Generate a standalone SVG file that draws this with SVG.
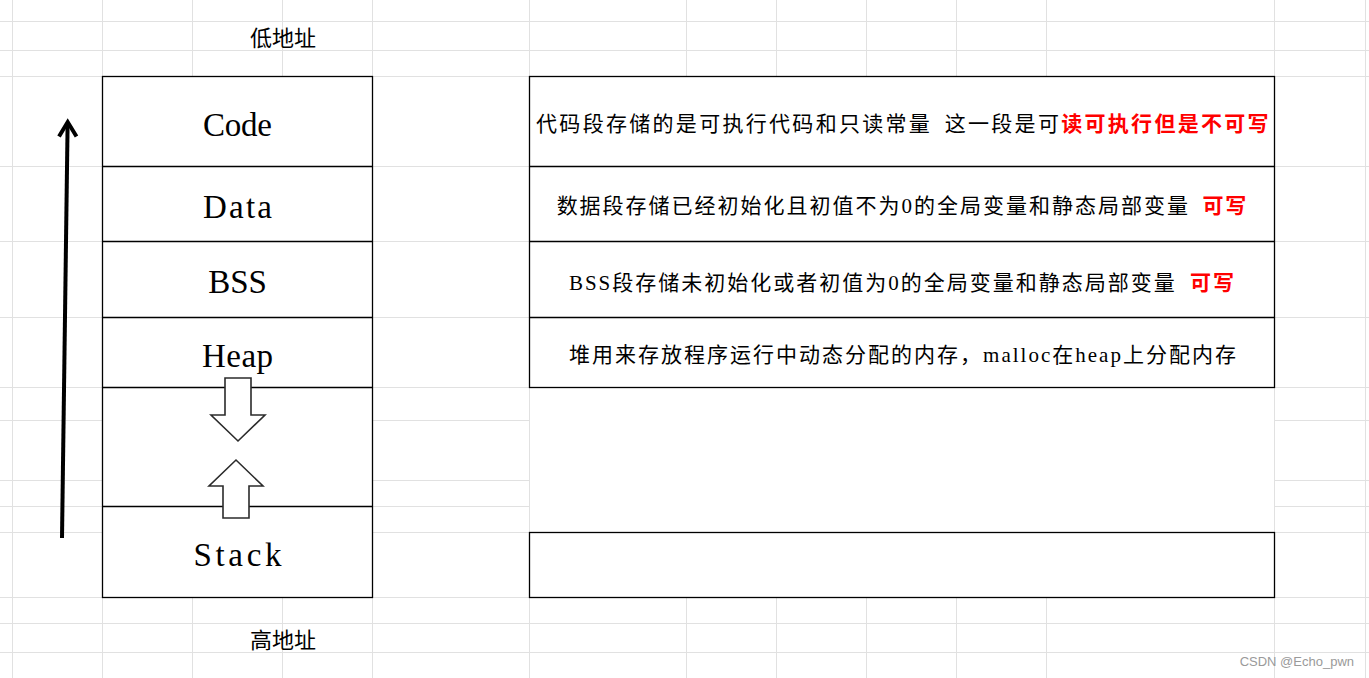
<svg xmlns="http://www.w3.org/2000/svg" width="1369" height="678" viewBox="0 0 1369 678">
<style>
.grid line{stroke:#e1e1e1;stroke-width:1}
.box{fill:#fff;stroke:#000;stroke-width:1.3}
.div{stroke:#000;stroke-width:1.3}
.seg{font-family:'Liberation Serif','Noto Sans CJK SC',serif;font-size:33px;fill:#000;text-anchor:middle}
.desc{font-family:'Liberation Serif','Noto Sans CJK SC',serif;font-size:21px;letter-spacing:2px;fill:#000;text-anchor:middle}
.red{fill:#ff0000;font-weight:bold}
.addr{font-family:'Noto Sans CJK SC',sans-serif;font-size:22px;fill:#000}
.blk{fill:#fff;stroke:#2b2b2b;stroke-width:1.6}
</style>
<rect x="0" y="0" width="1369" height="678" fill="#fff"/>
<g class="grid">
<line x1="12.5" y1="0" x2="12.5" y2="678"/>
<line x1="102.5" y1="0" x2="102.5" y2="678"/>
<line x1="192.5" y1="0" x2="192.5" y2="678"/>
<line x1="282.5" y1="0" x2="282.5" y2="678"/>
<line x1="372.5" y1="0" x2="372.5" y2="678"/>
<line x1="529.5" y1="0" x2="529.5" y2="678"/>
<line x1="686.5" y1="0" x2="686.5" y2="678"/>
<line x1="776.5" y1="0" x2="776.5" y2="678"/>
<line x1="866.5" y1="0" x2="866.5" y2="678"/>
<line x1="956.5" y1="0" x2="956.5" y2="678"/>
<line x1="1046.5" y1="0" x2="1046.5" y2="678"/>
<line x1="1274.5" y1="0" x2="1274.5" y2="678"/>
<line x1="1365.5" y1="0" x2="1365.5" y2="678"/>
<line x1="0" y1="21.5" x2="1369" y2="21.5"/>
<line x1="0" y1="50.5" x2="1369" y2="50.5"/>
<line x1="0" y1="76.5" x2="1369" y2="76.5"/>
<line x1="0" y1="166.5" x2="1369" y2="166.5"/>
<line x1="0" y1="241.5" x2="1369" y2="241.5"/>
<line x1="0" y1="317.5" x2="1369" y2="317.5"/>
<line x1="0" y1="387.5" x2="1369" y2="387.5"/>
<line x1="0" y1="420.5" x2="1369" y2="420.5"/>
<line x1="0" y1="480.5" x2="1369" y2="480.5"/>
<line x1="0" y1="506.5" x2="1369" y2="506.5"/>
<line x1="0" y1="532.5" x2="1369" y2="532.5"/>
<line x1="0" y1="597.5" x2="1369" y2="597.5"/>
<line x1="0" y1="623.5" x2="1369" y2="623.5"/>
<line x1="0" y1="652.5" x2="1369" y2="652.5"/>
</g>
<rect x="530" y="388" width="744" height="144" fill="#fff"/>

<text class="addr" x="250" y="46">低地址</text>
<text class="addr" x="250" y="648">高地址</text>

<g id="memory-layout">
<rect class="box" x="102.5" y="76.5" width="270" height="521"/>
<line class="div" x1="102.5" y1="166.5" x2="372.5" y2="166.5"/>
<line class="div" x1="102.5" y1="241.5" x2="372.5" y2="241.5"/>
<line class="div" x1="102.5" y1="317.5" x2="372.5" y2="317.5"/>
<line class="div" x1="102.5" y1="387.5" x2="372.5" y2="387.5"/>
<line class="div" x1="102.5" y1="506.5" x2="372.5" y2="506.5"/>
</g>
<g id="code"><text class="seg" x="237.5" y="136" textLength="69" lengthAdjust="spacing">Code</text></g>
<g id="data"><text class="seg" x="237.5" y="218" textLength="69" lengthAdjust="spacing">Data</text></g>
<g id="bss"><text class="seg" x="237.5" y="293">BSS</text></g>
<g id="heap"><text class="seg" x="237.5" y="367" textLength="71" lengthAdjust="spacing">Heap</text></g>
<g id="stack"><text class="seg" x="237.5" y="566" textLength="88" lengthAdjust="spacing">Stack</text></g>
<g id="growth-arrows">
<polygon class="blk" points="225,378 251,378 251,415 265,415 238,441 211,415 225,415"/>
<polygon class="blk" points="223,518 249,518 249,486 263,486 236,460 209,486 223,486"/>
</g>

<g id="description-table">
<rect class="box" x="529.5" y="76.5" width="745" height="311"/>
<line class="div" x1="529.5" y1="166.5" x2="1274.5" y2="166.5"/>
<line class="div" x1="529.5" y1="241.5" x2="1274.5" y2="241.5"/>
<line class="div" x1="529.5" y1="317.5" x2="1274.5" y2="317.5"/>
</g>
<g id="desc-code"><text class="desc" x="903.5" y="131" style="letter-spacing:2.3px">代码段存储的是可执行代码和只读常量 <tspan dx="5">这一段是可</tspan><tspan class="red">读可执行但是不可写</tspan></text></g>
<g id="desc-data"><text class="desc" x="902.5" y="213">数据段存储已经初始化且初值不为0的全局变量和静态局部变量 <tspan class="red" dx="5">可写</tspan></text></g>
<g id="desc-bss"><text class="desc" x="902.5" y="290">BSS段存储未初始化或者初值为0的全局变量和静态局部变量 <tspan class="red" dx="6">可写</tspan></text></g>
<g id="desc-heap"><text class="desc" x="903.5" y="362">堆用来存放程序运行中动态分配的内存，malloc在heap上分配内存</text></g>
<g id="desc-stack"><rect class="box" x="529.5" y="532.5" width="745" height="65"/></g>

<g id="connectors">
<line x1="62" y1="538" x2="67.6" y2="124" stroke="#000" stroke-width="4"/>
<polyline points="59,136.5 67.7,122 76.5,136.5" fill="none" stroke="#000" stroke-width="4" stroke-linejoin="miter"/>
</g>

<text x="1354" y="666" font-family="'Liberation Sans',sans-serif" font-size="13" fill="#9a9a9a" text-anchor="end">CSDN @Echo_pwn</text>
</svg>
